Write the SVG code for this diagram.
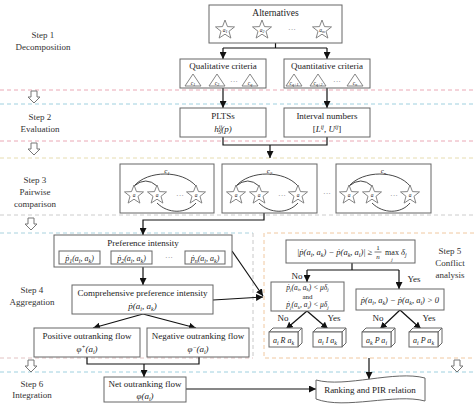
<svg xmlns="http://www.w3.org/2000/svg" xmlns:xlink="http://www.w3.org/1999/xlink" width="474" height="409" viewBox="0 0 474 409" font-family="'Liberation Serif','DejaVu Serif',serif">
<style>
text{font-family:"Liberation Serif","DejaVu Serif",serif;fill:#222;font-size:9px}
.c{text-anchor:middle}
.m{font-style:italic}
.s{font-size:6px}
.tiny{font-size:5.5px;font-style:italic}
.st{fill:#333}
.box{fill:#fff;stroke:#666;stroke-width:1}
.sh{fill:#fff;stroke:#777;stroke-width:0.9}
.ln{fill:none;stroke:#111;stroke-width:1.2}
.arc{fill:none;stroke:#333;stroke-width:0.9}
.d{fill:none;stroke-width:1;stroke-dasharray:4,3}
.ha{fill:#fff;stroke:#777;stroke-width:1}
.dots{fill:#888;font-size:8px}
</style>
<defs>
<marker id="ah" viewBox="0 0 10 10" refX="10" refY="5" markerWidth="7" markerHeight="7" orient="auto" markerUnits="userSpaceOnUse"><path d="M0,0 L10,5 L0,10 z" fill="#111"/></marker>
<path id="star" d="M0,-10 L2.47,-3.4 L9.51,-3.09 L3.99,1.3 L5.88,8.09 L0,4.2 L-5.88,8.09 L-3.99,1.3 L-9.51,-3.09 L-2.47,-3.4 Z" class="sh"/>
<path id="tri" d="M-8,6 L0,-6 L8,6 Z" class="sh"/>
<path id="hol" d="M-3,0 H3 V6 H6 L0,12 L-6,6 H-3 Z" class="ha"/>
</defs>

<!-- separators -->
<g id="separators">
<line x1="0" y1="90" x2="474" y2="90" class="d" stroke="#eaa8b5"/>
<line x1="0" y1="104" x2="474" y2="104" class="d" stroke="#9fd0df"/>
<line x1="0" y1="141" x2="474" y2="141" class="d" stroke="#eaa8b5"/>
<line x1="0" y1="158" x2="474" y2="158" class="d" stroke="#e6dcb0"/>
<line x1="0" y1="215" x2="474" y2="215" class="d" stroke="#cccccc"/>
<line x1="0" y1="233" x2="253" y2="233" class="d" stroke="#a9d2de"/>
<line x1="253" y1="233" x2="253" y2="358" class="d" stroke="#c8c8c8"/>
<line x1="0" y1="358" x2="253" y2="358" class="d" stroke="#e2c2c2"/>
<path d="M474,233 H264 V358 H474" class="d" stroke="#f0c8a0"/>
<line x1="0" y1="372" x2="474" y2="372" class="d" stroke="#9fd0df"/>
<use xlink:href="#hol" x="34" y="91"/>
<use xlink:href="#hol" x="34" y="143"/>
<use xlink:href="#hol" x="31" y="218"/>
<use xlink:href="#hol" x="31" y="360"/>
<use xlink:href="#hol" x="457" y="360"/>
</g>

<!-- step labels -->
<g id="steps">
<text x="43" y="38" class="c st">Step 1</text>
<text x="43" y="50" class="c st">Decomposition</text>
<text x="40" y="120" class="c st">Step 2</text>
<text x="40" y="132" class="c st">Evaluation</text>
<text x="35" y="183" class="c st">Step 3</text>
<text x="35" y="195" class="c st">Pairwise</text>
<text x="35" y="207" class="c st">comparison</text>
<text x="32" y="293" class="c st">Step 4</text>
<text x="32" y="305" class="c st">Aggregation</text>
<text x="450" y="254" class="c st">Step 5</text>
<text x="450" y="266" class="c st">Conflict</text>
<text x="450" y="278" class="c st">analysis</text>
<text x="32" y="387" class="c st">Step 6</text>
<text x="32" y="398" class="c st">Integration</text>
</g>

<!-- connectors -->
<g id="connectors">
<path d="M275.5,43 V48" class="ln"/>
<path d="M223,48 H327" class="ln"/>
<path d="M223,48 V59" class="ln" marker-end="url(#ah)"/>
<path d="M327,48 V59" class="ln" marker-end="url(#ah)"/>
<path d="M223,88 V108" class="ln" marker-end="url(#ah)"/>
<path d="M327,88 V108" class="ln" marker-end="url(#ah)"/>
<path d="M223,137 V145 H327 V137" class="ln"/>
<path d="M270,145 V158" class="ln" marker-end="url(#ah)"/>
<path d="M264,213 V220 H143 V235" class="ln" marker-end="url(#ah)"/>
<path d="M143,267 V285" class="ln" marker-end="url(#ah)"/>
<path d="M143,314 L93,328" class="ln" marker-end="url(#ah)"/>
<path d="M143,314 L196,328" class="ln" marker-end="url(#ah)"/>
<path d="M87,357 V364 H199 V357" class="ln"/>
<path d="M144,364 V377" class="ln" marker-end="url(#ah)"/>
<path d="M186,389 H316" class="ln" marker-end="url(#ah)"/>
<path d="M369,358 V379" class="ln" marker-end="url(#ah)"/>
<path d="M232,251 L263,296" class="ln" marker-end="url(#ah)"/>
<path d="M213,300 L263,297" class="ln" marker-end="url(#ah)"/>
<path d="M352,263 V270" class="ln"/>
<path d="M307,270 H399" class="ln"/>
<path d="M307,270 V282" class="ln" marker-end="url(#ah)"/>
<path d="M399,270 V289" class="ln" marker-end="url(#ah)"/>
<path d="M307,311 L286,329" class="ln" marker-end="url(#ah)"/>
<path d="M307,311 L328,329" class="ln" marker-end="url(#ah)"/>
<path d="M400,310 L380,329" class="ln" marker-end="url(#ah)"/>
<path d="M400,310 L421,329" class="ln" marker-end="url(#ah)"/>
<text x="297" y="279" class="c">No</text>
<text x="414" y="282" class="c">Yes</text>
<text x="283" y="321" class="c">No</text>
<text x="334" y="321" class="c">Yes</text>
<text x="378" y="321" class="c">No</text>
<text x="429" y="321" class="c">Yes</text>
</g>

<!-- Step 1 -->
<g id="alternatives">
<rect x="209" y="5" width="133" height="38" class="box"/>
<text x="275.5" y="16" class="c" style="font-size:9.5px">Alternatives</text>
<use xlink:href="#star" x="225" y="30"/>
<use xlink:href="#star" x="262" y="30"/>
<use xlink:href="#star" x="322" y="30"/>
<text x="225" y="31.5" class="c tiny">a<tspan dy="1" style="font-size:4px">1</tspan></text>
<text x="262" y="31.5" class="c tiny">a<tspan dy="1" style="font-size:4px">2</tspan></text>
<text x="322" y="31.5" class="c tiny">a<tspan dy="1" style="font-size:4px">m</tspan></text>
<text x="292" y="32" class="c dots">···</text>
</g>
<g id="qualitative">
<rect x="180" y="59" width="86" height="29" class="box"/>
<text x="223" y="69" class="c">Qualitative criteria</text>
<use xlink:href="#tri" x="193" y="80"/>
<use xlink:href="#tri" x="217" y="80"/>
<use xlink:href="#tri" x="250" y="80"/>
<text x="193" y="84.5" class="c tiny">c<tspan dy="1" style="font-size:4px">1</tspan></text>
<text x="217" y="84.5" class="c tiny">c<tspan dy="1" style="font-size:4px">2</tspan></text>
<text x="250" y="84.5" class="c tiny">c<tspan dy="1" style="font-size:4px">q</tspan></text>
<text x="234" y="84" class="c dots">···</text>
</g>
<g id="quantitative">
<rect x="284" y="59" width="86" height="29" class="box"/>
<text x="327" y="69" class="c">Quantitative criteria</text>
<use xlink:href="#tri" x="294" y="80"/>
<use xlink:href="#tri" x="318" y="80"/>
<use xlink:href="#tri" x="355" y="80"/>
<text x="294" y="84.5" class="c tiny">c<tspan dy="1" style="font-size:4px">q+1</tspan></text>
<text x="318" y="84.5" class="c tiny">c<tspan dy="1" style="font-size:4px">q+2</tspan></text>
<text x="355" y="84.5" class="c tiny">c<tspan dy="1" style="font-size:4px">n</tspan></text>
<text x="337" y="84" class="c dots">···</text>
</g>

<!-- Step 2 -->
<g id="pltss">
<rect x="180" y="108" width="86" height="29" class="box"/>
<text x="223" y="119" class="c">PLTSs</text>
<text x="223" y="132" class="c m">h<tspan class="s" dy="-3">ij</tspan><tspan class="s" dx="-4" dy="5">S</tspan><tspan dy="-2">(p)</tspan></text>
</g>
<g id="interval">
<rect x="284" y="108" width="86" height="29" class="box"/>
<text x="327" y="119" class="c">Interval numbers</text>
<text x="327" y="132" class="c">[<tspan class="m">L</tspan><tspan class="s m" dy="-3">ij</tspan><tspan dy="3">, </tspan><tspan class="m">U</tspan><tspan class="s m" dy="-3">ij</tspan><tspan dy="3">]</tspan></text>
</g>

<!-- Step 3 -->
<g id="c1">
<rect x="120" y="164" width="94" height="49" class="box"/>
<text x="167" y="173" class="c m" style="font-size:7px">c<tspan dy="1.5" style="font-size:5px">1</tspan></text>
<path d="M134,186 Q146,176 157,186" class="arc"/>
<path d="M134,186 C148,170 182,170 196,186" class="arc"/>
<path d="M157,203 C168,214 186,214 196,203" class="arc"/>
<use xlink:href="#star" x="134" y="195"/>
<use xlink:href="#star" x="157" y="195"/>
<use xlink:href="#star" x="196" y="195"/>
<text x="180" y="198" class="c dots">···</text>
<text x="134" y="197" class="c tiny">a</text>
<text x="157" y="197" class="c tiny">a</text>
<text x="196" y="197" class="c tiny">a</text>
</g>
<g id="c2">
<rect x="222" y="164" width="95" height="49" class="box"/>
<text x="269.5" y="173" class="c m" style="font-size:7px">c<tspan dy="1.5" style="font-size:5px">2</tspan></text>
<path d="M236,186 Q248,176 259,186" class="arc"/>
<path d="M236,186 C250,170 284,170 298,186" class="arc"/>
<path d="M259,203 C270,214 288,214 298,203" class="arc"/>
<use xlink:href="#star" x="236" y="195"/>
<use xlink:href="#star" x="259" y="195"/>
<use xlink:href="#star" x="298" y="195"/>
<text x="282" y="198" class="c dots">···</text>
<text x="236" y="197" class="c tiny">a</text>
<text x="259" y="197" class="c tiny">a</text>
<text x="298" y="197" class="c tiny">a</text>
</g>
<text x="327" y="196" class="c dots">···</text>
<g id="cn">
<rect x="336" y="164" width="95" height="49" class="box"/>
<text x="383.5" y="173" class="c m" style="font-size:7px">c<tspan dy="1.5" style="font-size:5px">n</tspan></text>
<path d="M349,186 Q361,176 372,186" class="arc"/>
<path d="M349,186 C363,170 397,170 410,186" class="arc"/>
<path d="M372,203 C383,214 401,214 410,203" class="arc"/>
<use xlink:href="#star" x="349" y="195"/>
<use xlink:href="#star" x="372" y="195"/>
<use xlink:href="#star" x="410" y="195"/>
<text x="394" y="198" class="c dots">···</text>
<text x="349" y="197" class="c tiny">a</text>
<text x="372" y="197" class="c tiny">a</text>
<text x="410" y="197" class="c tiny">a</text>
</g>

<!-- Step 4 -->
<g id="preference">
<rect x="54" y="235" width="178" height="32" class="box"/>
<text x="143" y="246" class="c">Preference intensity</text>
<rect x="59" y="251" width="41" height="13" class="box"/>
<rect x="111" y="251" width="41" height="13" class="box"/>
<rect x="185" y="251" width="40" height="13" class="box"/>
<text x="79.5" y="260.5" class="c m" style="font-size:8px">ṗ<tspan class="s" dy="2">1</tspan><tspan dy="-2">(a</tspan><tspan class="s" dy="2">i</tspan><tspan dy="-2">, a</tspan><tspan class="s" dy="2">k</tspan><tspan dy="-2">)</tspan></text>
<text x="131.5" y="260.5" class="c m" style="font-size:8px">ṗ<tspan class="s" dy="2">2</tspan><tspan dy="-2">(a</tspan><tspan class="s" dy="2">i</tspan><tspan dy="-2">, a</tspan><tspan class="s" dy="2">k</tspan><tspan dy="-2">)</tspan></text>
<text x="205" y="260.5" class="c m" style="font-size:8px">ṗ<tspan class="s" dy="2">n</tspan><tspan dy="-2">(a</tspan><tspan class="s" dy="2">i</tspan><tspan dy="-2">, a</tspan><tspan class="s" dy="2">k</tspan><tspan dy="-2">)</tspan></text>
<text x="169" y="260" class="c dots">···</text>
</g>
<g id="comprehensive">
<rect x="72" y="285" width="141" height="29" class="box"/>
<text x="142.5" y="296" class="c">Comprehensive preference intensity</text>
<text x="142.5" y="309" class="c m">ṗ(a<tspan class="s" dy="2">i</tspan><tspan dy="-2">, a</tspan><tspan class="s" dy="2">k</tspan><tspan dy="-2">)</tspan></text>
</g>
<g id="positive">
<rect x="34" y="328" width="106" height="29" class="box"/>
<text x="87" y="339" class="c">Positive outranking flow</text>
<text x="87" y="352" class="c m">φ<tspan class="s" dy="-3">+</tspan><tspan dy="3">(a</tspan><tspan class="s" dy="2">i</tspan><tspan dy="-2">)</tspan></text>
</g>
<g id="negative">
<rect x="147" y="328" width="102" height="29" class="box"/>
<text x="198" y="339" class="c">Negative outranking flow</text>
<text x="198" y="352" class="c m">φ<tspan class="s" dy="-3">−</tspan><tspan dy="3">(a</tspan><tspan class="s" dy="2">i</tspan><tspan dy="-2">)</tspan></text>
</g>

<!-- Step 6 -->
<g id="net">
<rect x="104" y="377" width="82" height="25" class="box"/>
<text x="145" y="387" class="c">Net outranking flow</text>
<text x="145" y="399" class="c m">φ(a<tspan class="s" dy="2">i</tspan><tspan dy="-2">)</tspan></text>
</g>
<g id="ranking">
<path d="M316,380 C345,388 395,370 425,378 V401 C395,393 345,410 316,399 Z" class="box"/>
<text x="370" y="392.5" class="c">Ranking and PIR relation</text>
</g>

<!-- Step 5 -->
<g id="condition">
<rect x="286" y="240" width="129" height="23" class="box"/>
<text x="297" y="255" class="m" style="font-size:8.5px">|ṗ(a<tspan class="s" dy="2">i</tspan><tspan dy="-2">, a</tspan><tspan class="s" dy="2">k</tspan><tspan dy="-2">) − ṗ(a</tspan><tspan class="s" dy="2">k</tspan><tspan dy="-2">, a</tspan><tspan class="s" dy="2">i</tspan><tspan dy="-2">)| ≥</tspan></text>
<text x="378" y="250" class="c" style="font-size:7px">1</text>
<line x1="374.5" y1="252" x2="381.5" y2="252" stroke="#222" stroke-width="0.6"/>
<text x="378" y="259" class="c m" style="font-size:7px">n</text>
<text x="392" y="255" class="c" style="font-size:8px">max</text>
<text x="392" y="261" class="c m" style="font-size:5px">j</text>
<text x="401" y="255" class="m" style="font-size:8.5px">δ<tspan class="s" dy="2">j</tspan></text>
</g>
<g id="cond-no">
<rect x="271" y="282" width="73" height="29" class="box"/>
<text x="307.5" y="289.5" class="c m" style="font-size:7.5px">ṗ<tspan style="font-size:5px" dy="1.5">j</tspan><tspan dy="-1.5">(a</tspan><tspan style="font-size:5px" dy="1.5">i</tspan><tspan dy="-1.5">, a</tspan><tspan style="font-size:5px" dy="1.5">k</tspan><tspan dy="-1.5">) &lt; μδ</tspan><tspan style="font-size:5px" dy="1.5">j</tspan></text>
<text x="307.5" y="298.5" class="c" style="font-size:7px">and</text>
<text x="307.5" y="307" class="c m" style="font-size:7.5px">ṗ<tspan style="font-size:5px" dy="1.5">j</tspan><tspan dy="-1.5">(a</tspan><tspan style="font-size:5px" dy="1.5">k</tspan><tspan dy="-1.5">, a</tspan><tspan style="font-size:5px" dy="1.5">i</tspan><tspan dy="-1.5">) &lt; μδ</tspan><tspan style="font-size:5px" dy="1.5">j</tspan></text>
</g>
<g id="cond-yes">
<rect x="356" y="289" width="88" height="21" class="box"/>
<text x="400" y="302.5" class="c m" style="font-size:8.5px">ṗ(a<tspan class="s" dy="2">i</tspan><tspan dy="-2">, a</tspan><tspan class="s" dy="2">k</tspan><tspan dy="-2">) − ṗ(a</tspan><tspan class="s" dy="2">k</tspan><tspan dy="-2">, a</tspan><tspan class="s" dy="2">i</tspan><tspan dy="-2">) &gt; 0</tspan></text>
</g>
<g id="r1">
<path d="M269,332 L273,328 H302 L298,332 Z M298,332 L302,328 V343 L298,347 Z" class="box"/>
<rect x="269" y="332" width="29" height="15" class="box"/>
<text x="283.5" y="343" class="c m" style="font-size:8px">a<tspan class="s" dy="2">i</tspan><tspan dy="-2"> R a</tspan><tspan class="s" dy="2">k</tspan></text>
</g>
<g id="r2">
<path d="M313,332 L317,328 H346 L342,332 Z M342,332 L346,328 V343 L342,347 Z" class="box"/>
<rect x="313" y="332" width="29" height="15" class="box"/>
<text x="327.5" y="343" class="c m" style="font-size:8px">a<tspan class="s" dy="2">i</tspan><tspan dy="-2"> I a</tspan><tspan class="s" dy="2">k</tspan></text>
</g>
<g id="r3">
<path d="M362,332 L366,328 H395 L391,332 Z M391,332 L395,328 V343 L391,347 Z" class="box"/>
<rect x="362" y="332" width="29" height="15" class="box"/>
<text x="376.5" y="343" class="c m" style="font-size:8px">a<tspan class="s" dy="2">k</tspan><tspan dy="-2"> P a</tspan><tspan class="s" dy="2">i</tspan></text>
</g>
<g id="r4">
<path d="M409,332 L413,328 H442 L438,332 Z M438,332 L442,328 V343 L438,347 Z" class="box"/>
<rect x="409" y="332" width="29" height="15" class="box"/>
<text x="423.5" y="343" class="c m" style="font-size:8px">a<tspan class="s" dy="2">i</tspan><tspan dy="-2"> P a</tspan><tspan class="s" dy="2">k</tspan></text>
</g>
</svg>
